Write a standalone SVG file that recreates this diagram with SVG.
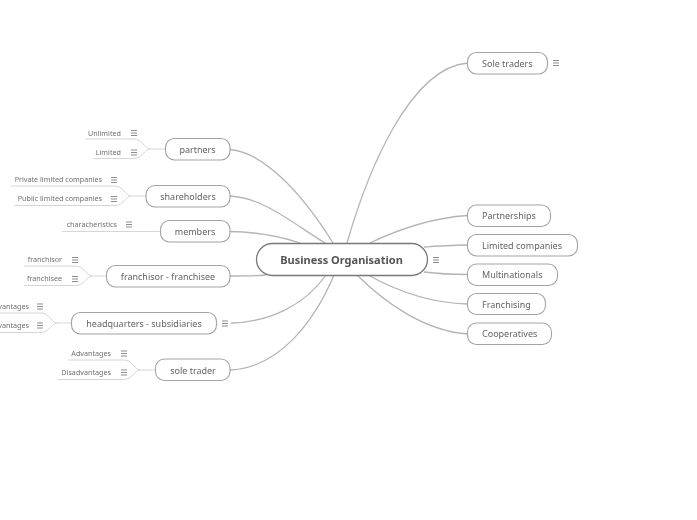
<svg xmlns="http://www.w3.org/2000/svg" width="697" height="520" viewBox="0 0 697 520">
<style>
text{font-family:"Noto Sans","Open Sans","DejaVu Sans",sans-serif;fill:#636363}
.n rect{fill:#fff;stroke:#a3a3a3;stroke-width:1.100}
.n text{font-size:9px}
.s text{font-size:7.200px;fill:#707070}
.c path{fill:none;stroke:#b4b4b4;stroke-width:1.300}
.m path{fill:none;stroke:#d6d6d6;stroke-width:1}
.i{fill:none;stroke:#707070;stroke-width:.8}
</style>
<defs><path id="menu" class="i" d="M0 .5H6M0 3H6M0 5.500H6"/></defs>
<g id="connectors">
<g class="c">
<path d="M347 243C368 170 410 68 467.500 63"/>
<path d="M370 243C395 231 430 218 467.500 215.500"/>
<path d="M424 247C440 246 455 245 467.500 245"/>
<path d="M424 272C440 274 455 274.500 467.500 274.500"/>
<path d="M368 275C395 290 430 303 467.500 304"/>
<path d="M357 275C385 303 425 331 467.500 334"/>
<path d="M230 149.500C262 152 300 190 333 243"/>
<path d="M230 196C265 198 295 225 325 243"/>
<path d="M230 231.500C260 232 282 237 300 243"/>
<path d="M230 276C245 276 255 276 266 275"/>
<path d="M231 323C270 322 305 305 326 275"/>
<path d="M230 370C280 368 315 320 334 275"/>
</g>
<g class="m">
<path d="M165 149H150C145 149 142 139 134 139H85"/>
<path d="M150 149C145 149 142 158.500 134 158.500H93"/>
<path d="M146 196H131C126 196 123 186 115 186H11"/>
<path d="M131 196C126 196 123 205.500 115 205.500H14"/>
<path d="M160.500 231.500H62"/>
<path d="M106.500 276H92C87 276 84 266 76 266H24"/>
<path d="M92 276C87 276 84 285.500 76 285.500H24"/>
<path d="M71.500 323H57C52 323 49 313 41 313H0"/>
<path d="M57 323C52 323 49 332.500 41 332.500H0"/>
<path d="M155 370H140C135 370 132 360 124 360H68"/>
<path d="M140 370C135 370 132 379.500 124 379.500H58"/>
</g>
</g>
<g opacity=".999">
<g id="root" class="n"><rect x="256.500" y="243.500" width="171" height="32" rx="16" style="stroke:#777;stroke-width:1.300"/><text x="341.500" y="264" text-anchor="middle" style="font-size:11px;font-weight:700;fill:#555">Business Organisation</text><use href="#menu" x="433" y="257"/></g>
<g id="sole-traders" class="n"><rect x="467.500" y="52.500" width="80" height="21.500" rx="9"/><text x="482" y="67">Sole traders</text><use href="#menu" x="553" y="60"/></g>
<g id="partnerships" class="n"><rect x="467.500" y="205" width="83" height="21.500" rx="9"/><text x="482" y="219">Partnerships</text></g>
<g id="limited-companies" class="n"><rect x="467.500" y="234.500" width="110" height="21.500" rx="9"/><text x="482" y="249">Limited companies</text></g>
<g id="multinationals" class="n"><rect x="467.500" y="264" width="90" height="21.500" rx="9"/><text x="482" y="278">Multinationals</text></g>
<g id="franchising" class="n"><rect x="467.500" y="293.500" width="78" height="21" rx="9"/><text x="482" y="308">Franchising</text></g>
<g id="cooperatives" class="n"><rect x="467.500" y="323" width="84" height="21.500" rx="9"/><text x="482" y="337">Cooperatives</text></g>
<g id="partners" class="n"><rect x="165.500" y="138.500" width="64.500" height="21.500" rx="9"/><text x="197.500" y="153" text-anchor="middle">partners</text></g>
<g id="shareholders" class="n"><rect x="146" y="185.500" width="84" height="21.500" rx="9"/><text x="188" y="200" text-anchor="middle">shareholders</text></g>
<g id="members" class="n"><rect x="160.500" y="220.500" width="69.500" height="21.500" rx="9"/><text x="195" y="235" text-anchor="middle">members</text></g>
<g id="franchisor-franchisee" class="n"><rect x="106.500" y="265.500" width="123.500" height="21.500" rx="9"/><text x="168" y="280" text-anchor="middle">franchisor - franchisee</text></g>
<g id="headquarters-subsidiaries" class="n"><rect x="71.500" y="312.500" width="145" height="21.500" rx="9"/><text x="144" y="327" text-anchor="middle">headquarters - subsidiaries</text><use href="#menu" x="222" y="320.500"/></g>
<g id="sole-trader" class="n"><rect x="155.500" y="359" width="74.500" height="21.500" rx="9"/><text x="193" y="374" text-anchor="middle">sole trader</text></g>
<g class="s">
<g id="unlimited"><text x="121" y="136" text-anchor="end">Unlimited</text><use href="#menu" x="131" y="130"/></g>
<g id="limited"><text x="121" y="155" text-anchor="end">Limited</text><use href="#menu" x="131" y="149.500"/></g>
<g id="private-limited"><text x="102" y="182" text-anchor="end">Private limited companies</text><use href="#menu" x="111" y="177"/></g>
<g id="public-limited"><text x="102" y="201" text-anchor="end">Public limited companies</text><use href="#menu" x="111" y="196"/></g>
<g id="characheristics"><text x="117" y="227" text-anchor="end">characheristics</text><use href="#menu" x="126" y="221.500"/></g>
<g id="franchisor"><text x="62" y="262" text-anchor="end">franchisor</text><use href="#menu" x="72" y="257"/></g>
<g id="franchisee"><text x="62" y="281" text-anchor="end">franchisee</text><use href="#menu" x="72" y="276"/></g>
<g id="hq-advantages"><text x="29" y="309" text-anchor="end">Advantages</text><use href="#menu" x="37" y="303.500"/></g>
<g id="hq-disadvantages"><text x="29" y="328" text-anchor="end">Disadvantages</text><use href="#menu" x="37" y="322.500"/></g>
<g id="st-advantages"><text x="111" y="356" text-anchor="end">Advantages</text><use href="#menu" x="121" y="350.500"/></g>
<g id="st-disadvantages"><text x="111" y="375" text-anchor="end">Disadvantages</text><use href="#menu" x="121" y="369.500"/></g>
</g>
</g>
</svg>
